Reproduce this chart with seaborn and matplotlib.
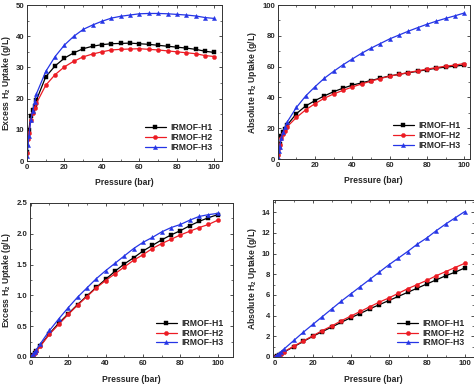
import numpy as np
import pandas as pd
import matplotlib
import matplotlib.pyplot as plt
import seaborn as sns
from matplotlib.ticker import MultipleLocator
from matplotlib.lines import Line2D

plt.switch_backend('Agg')

# pressure points (bar)
p_77 = [0.1, 0.5, 1, 2, 3, 4, 5, 10, 15, 20, 25, 30, 35, 40, 45, 50,
        55, 60, 65, 70, 75, 80, 85, 90, 95, 100]
p_298 = [0.1, 1, 2, 3, 5, 10, 15, 20, 25, 30, 35, 40, 45, 50,
         55, 60, 65, 70, 75, 80, 85, 90, 95, 100]

# excess uptake, 77 K
ex77_h1 = [3, 8, 10, 14.5, 16.5, 17.5, 19.5, 27, 30.5, 33, 34.7, 36, 36.8, 37.3, 37.6, 37.7,
           37.8, 37.6, 37.4, 37.1, 36.8, 36.5, 36.2, 35.8, 35.2, 34.8]
ex77_h2 = [2.5, 7, 9, 13, 15.5, 17, 18.5, 24.3, 27.7, 30.2, 32, 33.4, 34.3, 35, 35.6, 35.8,
           35.9, 36, 35.8, 35.6, 35.3, 35, 34.7, 34.4, 33.8, 33.5]
ex77_h3 = [1.5, 5, 8, 13, 16, 19, 21.5, 28.7, 33.5, 37.2, 40, 42.2, 43.6, 44.8, 45.8, 46.4,
           46.8, 47.2, 47.3, 47.3, 47.2, 47, 46.8, 46.5, 46, 45.7]

# absolute uptake, 77 K
ab77_h1 = [3, 8, 10, 15, 17.5, 19.5, 22, 29.5, 34.5, 38, 41, 43.8, 46, 48, 49.5, 51,
           52.5, 54, 55, 56, 57, 58, 59, 59.7, 60.3, 61]
ab77_h2 = [2.5, 7, 9, 14, 16, 18, 21, 27, 32, 36, 39.5, 42.3, 44.6, 46.8, 48.8, 50.6,
           52.3, 53.8, 55, 56.2, 57.3, 58.4, 59.4, 60.3, 61, 62]
ab77_h3 = [1.5, 5, 8, 14, 17.5, 21, 24, 33.5, 41, 47, 52.5, 57, 61.2, 65, 68.7, 72,
           75, 78, 80.5, 83, 85.3, 87.5, 89.5, 91.3, 93, 94.8]

# excess uptake, 298 K
ex298_h1 = [0.003, 0.03, 0.06, 0.1, 0.18, 0.38, 0.55, 0.7, 0.85, 0.99, 1.13, 1.26, 1.39, 1.51,
            1.61, 1.72, 1.81, 1.9, 1.98, 2.05, 2.13, 2.2, 2.26, 2.31]
ex298_h2 = [0.003, 0.03, 0.06, 0.1, 0.17, 0.37, 0.53, 0.69, 0.84, 0.98, 1.12, 1.24, 1.35, 1.46,
            1.57, 1.66, 1.76, 1.84, 1.91, 1.98, 2.04, 2.1, 2.15, 2.22]
ex298_h3 = [0.004, 0.04, 0.08, 0.12, 0.21, 0.43, 0.62, 0.8, 0.97, 1.12, 1.27, 1.4, 1.52, 1.64,
            1.76, 1.86, 1.94, 2.03, 2.1, 2.15, 2.22, 2.28, 2.31, 2.33]

# absolute uptake, 298 K
ab298_h1 = [0.01, 0.1, 0.2, 0.3, 0.5, 1.0, 1.5, 2.0, 2.45, 2.9, 3.35, 3.8, 4.2, 4.65,
            5.05, 5.45, 5.85, 6.25, 6.65, 7.05, 7.45, 7.85, 8.2, 8.6]
ab298_h2 = [0.01, 0.1, 0.2, 0.3, 0.52, 1.05, 1.55, 2.05, 2.55, 3.0, 3.5, 3.95, 4.4, 4.85,
            5.3, 5.7, 6.15, 6.6, 7.0, 7.4, 7.85, 8.25, 8.65, 9.05]
ab298_h3 = [0.02, 0.16, 0.32, 0.48, 0.8, 1.6, 2.4, 3.15, 3.9, 4.65, 5.4, 6.1, 6.8, 7.5,
            8.2, 8.9, 9.55, 10.2, 10.9, 11.5, 12.2, 12.85, 13.45, 14.05]

names = ['IRMOF-H1', 'IRMOF-H2', 'IRMOF-H3']
colors = {'IRMOF-H1': '#000000', 'IRMOF-H2': '#ec1c24', 'IRMOF-H3': '#2535e6'}
markers = {'IRMOF-H1': 's', 'IRMOF-H2': 'o', 'IRMOF-H3': '^'}

sns.set_style('ticks')
plt.rcParams['font.family'] = ['Liberation Sans', 'DejaVu Sans']
plt.rcParams['font.weight'] = 'bold'
plt.rcParams['axes.labelweight'] = 'bold'
plt.rcParams['mathtext.fontset'] = 'custom'
plt.rcParams['mathtext.bf'] = 'Liberation Sans:bold'
plt.rcParams['mathtext.rm'] = 'Liberation Sans:bold'
plt.rcParams['mathtext.default'] = 'bf'


def long_df(p, series):
    rows = []
    for name, vals in zip(names, series):
        rows.append(pd.DataFrame({'Pressure': p, 'Uptake': vals, 'MOF': name}))
    return pd.concat(rows, ignore_index=True)


fig = plt.figure(figsize=(4.74, 3.88), dpi=100)

panels = [
    # position, pressure, series, ylabel, xlim, ylim, ymajor, yminor, yfmt, xlabelpad
    ([0.057, 0.585, 0.411, 0.402], p_77, [ex77_h1, ex77_h2, ex77_h3],
     'Excess H$_2$ Uptake (g/L)', (0, 104), (0, 50), 10, 5, '%d', 5),
    ([0.586, 0.590, 0.405, 0.397], p_77, [ab77_h1, ab77_h2, ab77_h3],
     'Absolute H$_2$ Uptake (g/L)', (0, 103), (0, 100), 20, 10, '%d', 5),
    ([0.063, 0.080, 0.428, 0.397], p_298, [ex298_h1, ex298_h2, ex298_h3],
     'Excess H$_2$ Uptake (g/L)', (-0.5, 108), (0, 2.5), 0.5, 0.25, '%.1f', 6),
    ([0.576, 0.080, 0.424, 0.405], p_298, [ab298_h1, ab298_h2, ab298_h3],
     'Absolute H$_2$ Uptake (g/L)', (-1, 105), (0, 15.2), 2, 1, '%d', 6),
]

for pos, p, series, ylabel, xlim, ylim, ymaj, ymin, yfmt, xpad in panels:
    ax = fig.add_axes(pos)
    df = long_df(p, series)
    sns.lineplot(data=df, x='Pressure', y='Uptake', hue='MOF', style='MOF',
                 palette=colors, markers=markers, dashes=False, lw=0.9,
                 markersize=3.0, ax=ax, legend=False)
    # markers filled and edged in their own line colour
    for ln in ax.lines:
        ln.set_markeredgecolor(ln.get_color())
        ln.set_markeredgewidth(0.3)
    ax.set_xlim(*xlim)
    ax.set_ylim(*ylim)
    ax.xaxis.set_major_locator(MultipleLocator(20))
    ax.xaxis.set_minor_locator(MultipleLocator(10))
    ax.yaxis.set_major_locator(MultipleLocator(ymaj))
    ax.yaxis.set_minor_locator(MultipleLocator(ymin))
    ax.yaxis.set_major_formatter(matplotlib.ticker.FormatStrFormatter(yfmt))
    ax.tick_params(which='both', direction='in', top=True, right=True,
                   labelsize=5.6, color='#333333', pad=2)
    ax.tick_params(which='major', length=2.5, width=0.6)
    ax.tick_params(which='minor', length=1.5, width=0.5)
    for sp in ax.spines.values():
        sp.set_linewidth(0.7)
        sp.set_color('#333333')
    ax.set_xlabel('Pressure (bar)', fontsize=6.2, labelpad=xpad)
    ax.set_ylabel(ylabel, fontsize=6.2, labelpad=2)
    for lab in ax.get_xticklabels() + ax.get_yticklabels():
        lab.set_fontweight('bold')

    handles = [Line2D([], [], color=colors[n], marker=markers[n], lw=0.9,
                      markersize=3.0, markeredgewidth=0.3,
                      markeredgecolor=colors[n]) for n in names]
    ax.legend(handles, names, loc='lower right', frameon=False,
              handlelength=2.4, handletextpad=0.5, labelspacing=0.1,
              borderaxespad=0.7, prop={'weight': 'bold', 'size': 6.2})

fig.savefig('out.png', dpi=100)
plt.close()
